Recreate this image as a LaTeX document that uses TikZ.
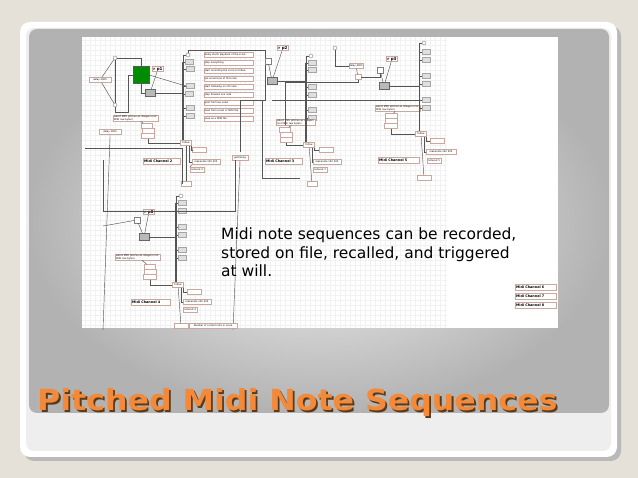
\documentclass[tikz,border=0pt]{standalone}
\usepackage{fontspec}
\setmainfont{DejaVu Sans}
\usetikzlibrary{shadows}
\definecolor{bg}{HTML}{E6E1D8}
\definecolor{ttl}{HTML}{F28A3A}
\definecolor{ttlsh}{HTML}{5A3A18}
\definecolor{objb}{HTML}{C9A8A0}
\definecolor{gridc}{HTML}{F1F1F1}
\definecolor{wire}{HTML}{555555}
\begin{document}
\begin{tikzpicture}[x=1pt,y=-1pt,
  obj/.style={draw=objb,fill=white,inner sep=0.4pt,minimum height=5pt,minimum width=#1,font=\fontsize{2.4}{2.8}\selectfont,line width=0.4pt},
  obj/.default=9pt,
  btn/.style={draw=gray!70,fill=gray!25,inner sep=0,minimum height=5pt,minimum width=8pt,font=\fontsize{2.4}{2.8}\selectfont,line width=0.4pt},
  gbox/.style={draw=gray!80!black,fill=gray!55,minimum width=10pt,minimum height=7pt,inner sep=0},
  tgl/.style={draw=gray,fill=white,minimum size=6pt,inner sep=0},
  circ/.style={circle,draw=gray,fill=white,minimum size=4pt,inner sep=0},
  rlab/.style={draw=objb,fill=white,inner sep=0.8pt,font=\fontsize{4}{4}\selectfont\bfseries},
  chan/.style={draw=objb,fill=white,inner sep=0.6pt,minimum height=6pt,text width=#1,font=\fontsize{3.4}{3.6}\selectfont\bfseries},
  cmt/.style={draw=objb,fill=white,inner sep=0.6pt,minimum height=5pt,text width=48pt,font=\fontsize{2.4}{2.8}\selectfont},
  msg/.style={draw=objb,fill=white,inner sep=0.6pt,text width=#1,font=\fontsize{2.4}{2.8}\selectfont,align=left},
  w/.style={draw=wire,line width=0.45pt}]
\useasboundingbox (0,0) rectangle (638,478);
\fill[bg] (0,0) rectangle (638,478);
% card
\fill[gray!55,rounded corners=10pt] (24,26) rectangle (621,461);
\fill[white,rounded corners=10pt] (20,22) rectangle (617,457);
\fill[gray!13,rounded corners=8pt] (26,28) rectangle (611,451);
\shade[rounded corners=8pt,inner color=gray!8,outer color=gray!60] (29,29) rectangle (609,413);
% screenshot
\fill[white] (82,37) rectangle (558,328);
\draw[gridc,line width=0.3pt,step=5pt] (82,37) grid (447,328);
% ---------- group p1
\node[circ] (c1) at (115,58) {};
\node[obj=22pt] (d1) at (100,80) {delay 2000};
\node[circ] (c2) at (115,105) {};
\node[obj=22pt] (d2) at (110,132) {delay 2000};
\node[draw=gray!70!black,fill=green!55!black,minimum width=16pt,minimum height=17pt,inner sep=0] (g) at (141,75) {};
\node[rlab] (rp1) at (158,69) {r p1};
\node[gbox] (gb1) at (150,93) {};
\node[circ] (a0) at (188,55) {};
\node[btn] (a1) at (189,62) {};
\node[btn] (a2) at (190,69) {};
\node[btn] (a3) at (190,86) {};
\node[btn] (a4) at (189,94) {};
\node[btn] (a5) at (190,108) {};
\node[btn] (a6) at (190,116) {};
\foreach \t [count=\i] in {delay starts playback of the score,stop everything,start recording the score to follow,set onset time of first note,start following on nth note,step forward one note,print first few notes,read from a text or MIDI file,save as a MIDI file}
  \node[cmt,anchor=west] (k\i) at (204,47+8*\i) {\t};
\node[msg=44pt] (m1) at (136,118) {select MIDI pitches as integers (not MIDI raw bytes)};
\node[obj=11pt] (s1) at (147,126) {};
\node[obj=12pt] (s2) at (148,131) {}; \node[obj=13pt] (s3) at (148,136) {};
\node[obj=11pt] (f1) at (186,143) {follow};
\node[obj=14pt] (n1) at (199,150) {};
\node[chan=36pt] (mc2) at (162,161) {Midi Channel 2};
\node[obj=28pt] (mk1) at (206,162) {makenote 120 200};
\node[obj=14pt] (no1) at (197,170) {noteout 2};
\node[obj=10pt] (b1) at (186,184) {};
\node[obj=16pt] (gt) at (240,158) {gettiming};
\draw[w] (a0) |- (265,50) -- (265,100) -| (240,152);
\draw[w] (c1) -- (d1) -- (c2) -- (c1); \draw[w] (c1) -- (c2);
\draw[w] (c2) |- (128,112) |- (g.west);
\draw[w] (d2) -- ++(0,5) -- (103,330);
\draw[w] (c1) -| (g.north);
\draw[w] (rp1) -- (gb1); \draw[w] (g.south) |- (gb1.west);
\draw[w] (gb1) -| (183,93) ; \draw[w] (g.east) -- (a3.west);
\foreach \a in {a0,a1,a2,a3,a4,a5,a6} \draw[w] (\a.west) -- ++(-3,0) coordinate (t) -- (t |- f1.north);
\draw[w] (s3) |- (f1.west); \draw[w] (f1) -- (b1);
\draw[w] (f1.south east) |- (n1.west); \draw[w] (f1.south) ++(3,0) |- (mk1.west);
\draw[w] (mk1.south west) -- (no1.north west);
\draw[w] (m1) -- (s1); \draw[w] (85,148) -- (183,148);
\draw[w] (gt.south) -- (233,330);
% ---------- group p2
\node[rlab] (rp2) at (283,48) {r p2};
\node[tgl] (tb2) at (268,61) {};
\node[gbox] (gb2) at (272,81) {};
\node[circ] (b0) at (311,56) {};
\foreach \y [count=\i] in {63,70,87,95,110,118} \node[btn] (bb\i) at (312,\y) {};
\node[msg=38pt] (m2) at (296,122) {select MIDI pitches as integers (not MIDI raw bytes)};
\node[obj=11pt] (t1) at (285,130) {}; \node[obj=12pt] (t2) at (286,135) {}; \node[obj=12pt] (t3) at (286,140) {};
\node[obj=11pt] (f2) at (309,145) {follow};
\node[obj=14pt] (n2) at (326,150) {};
\node[chan=36pt] (mc3) at (284,161) {Midi Channel 3};
\node[obj=28pt] (mk2) at (327,162) {makenote 120 200};
\node[obj=14pt] (no2) at (320,170) {noteout 3};
\node[obj=10pt] (b2) at (312,184) {};
\draw[w] (rp2) -- (gb2); \draw[w] (tb2) -- (gb2);
\draw[w] (gb2) -| (306,81);
\foreach \a in {b0,bb1,bb2,bb3,bb4,bb5,bb6} \draw[w] (\a.west) -- ++(-3,0) coordinate (t) -- (t |- f2.north);
\draw[w] (t3) |- (f2.west); \draw[w] (f2) -- (b2);
\draw[w] (f2.south east) |- (n2.west); \draw[w] (f2.south) ++(3,0) |- (mk2.west);
\draw[w] (m2) -- (t1);
\draw[w] (182,148) -- (182,184);
\draw[w] (262,100) -- (262,178) -- (300,178);
% ---------- group p3
\node[circ] (e0) at (335,48) {};
\node[obj=14pt] (dl4) at (356,66) {delay 4000};
\node[obj=6pt] (e1) at (358,77) {};
\node[tgl] (tb3) at (380,70) {};
\node[rlab] (rp3) at (392,59) {r p3};
\node[gbox] (gb3) at (384,86) {};
\node[circ] (h0) at (424,43) {};
\foreach \y [count=\i] in {52,60,76,84,100,108} \node[btn] (hh\i) at (426,\y) {};
\node[msg=44pt] (m3) at (398,108) {select MIDI pitches as integers (not MIDI raw bytes)};
\node[obj=12pt] (u1) at (391,116) {}; \node[obj=12pt] (u2) at (391,121) {}; \node[obj=13pt] (u3) at (391,126) {};
\node[obj=11pt] (f3) at (421,134) {follow};
\node[obj=14pt] (n3) at (437,141) {};
\node[chan=40pt] (mc5) at (399,160) {Midi Channel 5};
\node[obj=30pt] (mk3) at (441,152) {makenote 120 200};
\node[obj=14pt] (no3) at (434,161) {noteout 5};
\node[obj=14pt] (b3) at (424,178) {};
\draw[w] (e0) |- (dl4.west); \draw[w] (dl4) -- (e1);
\draw[w] (e1) -| (tb3); \draw[w] (rp3) -- (gb3); \draw[w] (tb3) -- (gb3);
\draw[w] (gb3) -| (420,86);
\draw[w] (e1.south) -- ++(0,3) -| (285,125);
\foreach \a in {h0,hh1,hh2,hh3,hh4,hh5,hh6} \draw[w] (\a.west) -- ++(-3,0) coordinate (t) -- (t |- f3.north);
\draw[w] (u3) |- (f3.west); \draw[w] (f3) -- (b3);
\draw[w] (f3.south east) |- (n3.west); \draw[w] (f3.south) ++(3,0) |- (mk3.west);
\draw[w] (m3) -- (u1);
\draw[w] (272,100) -- (420,100);
% ---------- group p8
\node[rlab] (rp8) at (149,212) {r p8};
\node[tgl] (tb8) at (137,220) {};
\node[gbox] (gb8) at (144,237) {};
\node[circ] (q0) at (181,196) {};
\foreach \y [count=\i] in {203,211,227,235,250,258} \node[btn] (qq\i) at (182,\y) {};
\node[msg=44pt] (m8) at (138,257) {select MIDI pitches as integers (not MIDI raw bytes)};
\node[obj=11pt] (v1) at (150,267) {}; \node[obj=12pt] (v2) at (150,272) {}; \node[obj=13pt] (v3) at (150,277) {};
\node[obj=11pt] (f8) at (178,285) {follow};
\node[obj=14pt] (n8) at (194,292) {};
\node[chan=38pt] (mc4) at (151,302) {Midi Channel 4};
\node[obj=28pt] (mk8) at (197,302) {makenote 120 200};
\node[obj=14pt] (no8) at (190,310) {noteout 4};
\node[obj=14pt] (b8) at (181,326) {};
\node[obj=48pt] (cn) at (213,326) {Number of current note in score};
\draw[w] (103,160) -- (103,211) -- (235,211) -- (235,160);
\draw[w] (rp8) -- (gb8); \draw[w] (tb8) -- (gb8); \draw[w] (gb8) -| (177,237);
\draw[w] (tb8) -- (103,226);
\foreach \a in {q0,qq1,qq2,qq3,qq4,qq5,qq6} \draw[w] (\a.west) -- ++(-3,0) coordinate (t) -- (t |- f8.north);
\draw[w] (v3) |- (f8.west); \draw[w] (f8) -- (b8);
\draw[w] (f8.south east) |- (n8.west); \draw[w] (f8.south) ++(3,0) |- (mk8.west);
\draw[w] (m8) -- (v1);
% other channels
\node[chan=40pt] (mc6) at (536,287) {Midi Channel 6};
\node[chan=40pt] (mc7) at (536,296) {Midi Channel 7};
\node[chan=40pt] (mc8) at (536,305) {Midi Channel 8};
% overlay text
\node[anchor=north west,align=left,font=\fontsize{15.5}{18.5}\selectfont,inner sep=0] (txt) at (221,228)
 {Midi note sequences can be recorded,\\stored on file, recalled, and triggered\\at will.};
% title
\node[anchor=base west,inner sep=0,font=\fontsize{29}{29}\selectfont\bfseries,text=ttlsh,xscale=1.09] (tsh) at (38.8,412.8) {Pitched Midi Note Sequences};
\node[anchor=base west,inner sep=0,font=\fontsize{29}{29}\selectfont\bfseries,text=ttl,xscale=1.09] (tt) at (37,411) {Pitched Midi Note Sequences};
\end{tikzpicture}
\end{document}
